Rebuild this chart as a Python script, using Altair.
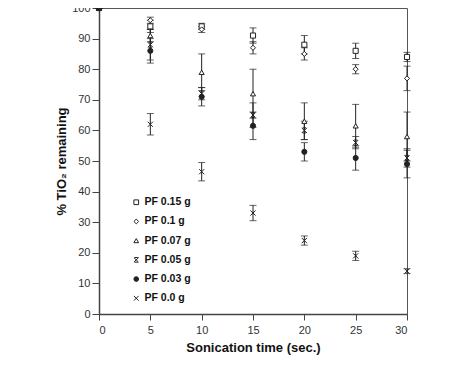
import altair as alt
import pandas as pd

time = [0, 5, 10, 15, 20, 25, 30]
series = ["PF 0.15 g", "PF 0.1 g", "PF 0.07 g", "PF 0.05 g", "PF 0.03 g", "PF 0.0 g"]
pf015 = [100, 94, 94, 91, 88, 86, 84]
err015 = [0, 2, 1, 2.5, 3, 2.5, 1.5]
pf01 = [100, 96, 93, 87, 85, 80, 77]
err01 = [0, 1, 1, 2, 2, 1.5, 4]
pf007 = [100, 91, 79, 72, 63, 61.5, 58]
err007 = [0, 2, 6, 8, 6, 7, 8]
pf005 = [100, 88, 72, 65, 60, 56, 51]
err005 = [0, 5, 2, 4, 3, 2, 3]
pf003 = [100, 86, 71, 61.5, 53, 51, 49]
err003 = [0, 4, 3, 4.5, 3, 4, 4.5]
pf00 = [100, 62, 46.5, 33, 24, 19, 14]
err00 = [0, 3.5, 3, 2.5, 1.5, 1.5, 0.8]

values = [pf015, pf01, pf007, pf005, pf003, pf00]
errors = [err015, err01, err007, err005, err003, err00]

rows = []
for name, vals, errs in zip(series, values, errors):
    for t, v, e in zip(time, vals, errs):
        rows.append({"t": t, "v": v, "lo": v - e, "hi": v + e, "s": name})
df = pd.DataFrame(rows)

shapes = [
    "square",
    "diamond",
    "triangle-up",
    "M-1,-1L1,1M1,-1L-1,1M-0.7,-1L0.7,-1M-0.7,1L0.7,1",
    "circle",
    "M-1,-1L1,1M1,-1L-1,1",
]
fills = ["white", "white", "white", "transparent", "#222222", "transparent"]

xscale = alt.Scale(domain=[0, 30], nice=False)
yscale = alt.Scale(domain=[0, 100], nice=False)
xaxis = alt.Axis(values=[0, 5, 10, 15, 20, 25, 30], title="Sonication time (sec.)",
                 grid=False, tickSize=6, labelPadding=4, titlePadding=6, labelOverlap=False)
yaxis = alt.Axis(values=list(range(0, 101, 10)), title="% TiO₂ remaining",
                 grid=False, tickSize=7, labelPadding=2, titlePadding=3, labelOverlap=False)

def X(f):
    return alt.X(f, scale=xscale, axis=xaxis)

def Y(f):
    return alt.Y(f, scale=yscale, axis=yaxis)

base = alt.Chart(df)

rules = base.mark_rule(color="#222222", strokeWidth=1).encode(
    x=X("t:Q"), y=Y("lo:Q"), y2="hi:Q")
caps_lo = base.mark_tick(color="#222222", orient="horizontal", size=7, thickness=1).encode(
    x=X("t:Q"), y=Y("lo:Q"))
caps_hi = base.mark_tick(color="#222222", orient="horizontal", size=7, thickness=1).encode(
    x=X("t:Q"), y=Y("hi:Q"))

legend = alt.Legend(title=None, orient="none", legendX=32, legendY=189,
                    labelFont="Liberation Sans", labelFontWeight="bold", labelFontSize=10.5,
                    labelColor="#111111", symbolSize=22, symbolStrokeWidth=1,
                    rowPadding=8.2, labelOffset=3)

pts = base.mark_point(size=26, strokeWidth=1, opacity=1, color="#222222", filled=False).encode(
    x=X("t:Q"), y=Y("v:Q"),
    shape=alt.Shape("s:N", scale=alt.Scale(domain=series, range=shapes), legend=legend,
                    sort=series),
    fill=alt.Fill("s:N", scale=alt.Scale(domain=series, range=fills), legend=legend,
                  sort=series),
)

chart = alt.layer(rules, caps_lo, caps_hi, pts).properties(
    width=308, height=306,
    autosize=alt.AutoSizeParams(type="none"),
    padding={"left": 91, "top": 0, "right": 55, "bottom": 42},
).configure_view(
    stroke="#555555", strokeWidth=1
).configure_axis(
    domainColor="#444444", domainWidth=1.5, tickColor="#444444", tickWidth=1,
    labelFont="Liberation Sans", labelFontSize=11, labelColor="#333333",
    titleFont="Liberation Sans", titleFontSize=13, titleFontWeight="bold", titleColor="#111111",
)

chart.save("out.html", embed_options={"renderer": "svg", "actions": False})
